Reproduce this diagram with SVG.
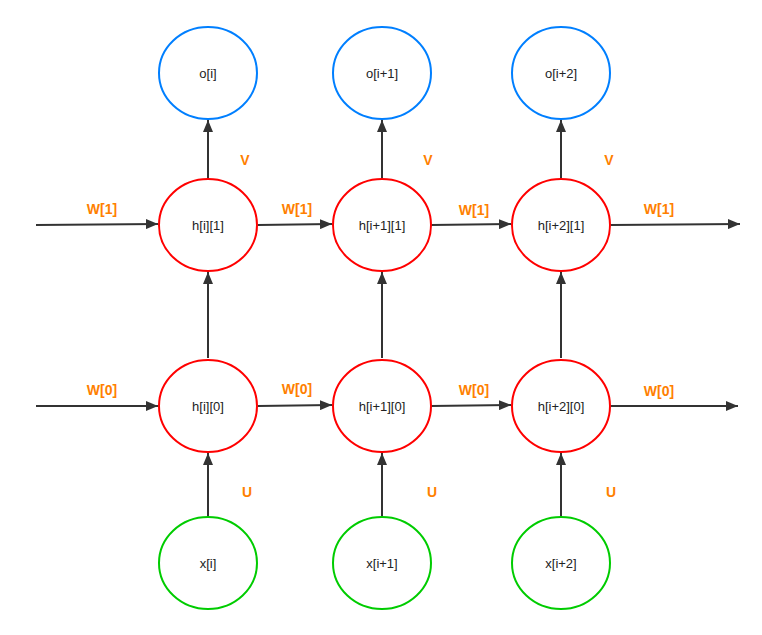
<svg xmlns="http://www.w3.org/2000/svg" width="762" height="635" viewBox="0 0 762 635">
<style>
.n{fill:#fff;stroke-width:2}
.o{stroke:#007fff}.h{stroke:#ff0000}.x{stroke:#00cc00}
.t{font-family:"Liberation Sans",sans-serif;font-size:13px;fill:#222;text-anchor:middle;dominant-baseline:central}
.l{font-family:"Liberation Sans",sans-serif;font-size:14px;font-weight:bold;fill:#ff8000;text-anchor:middle;dominant-baseline:central}
.c line{stroke:#333;stroke-width:2;marker-end:url(#a)}
</style>
<defs><marker id="a" viewBox="0 0 12 10" refX="12" refY="5" markerWidth="12" markerHeight="10" markerUnits="userSpaceOnUse" orient="auto"><path d="M0,0L12,5L0,10z" fill="#333"/></marker></defs>
<rect width="762" height="635" fill="#fff"/>
<g class="c" id="connectors">
<line x1="36" y1="225" x2="158" y2="224"/><line x1="258" y1="225" x2="332" y2="224"/><line x1="431" y1="225" x2="511" y2="224"/><line x1="611" y1="225" x2="740" y2="224"/>
<line x1="36" y1="406" x2="158" y2="406"/><line x1="258" y1="406" x2="332" y2="405"/><line x1="431" y1="406" x2="511" y2="405"/><line x1="611" y1="406" x2="738" y2="406"/>
<line x1="208" y1="178" x2="208" y2="120"/><line x1="382" y1="178" x2="382" y2="120"/><line x1="561" y1="178" x2="561" y2="120"/>
<line x1="208" y1="358" x2="208" y2="272"/><line x1="382" y1="358" x2="382" y2="272"/><line x1="561" y1="358" x2="561" y2="272"/>
<line x1="208" y1="516" x2="208" y2="453"/><line x1="382" y1="516" x2="382" y2="453"/><line x1="561" y1="516" x2="561" y2="453"/>
</g>
<g id="o0"><ellipse class="n o" cx="208" cy="73" rx="49" ry="46"/><text class="t" x="208" y="73">o[i]</text></g>
<g id="o1"><ellipse class="n o" cx="382" cy="73" rx="49" ry="46"/><text class="t" x="382" y="73">o[i+1]</text></g>
<g id="o2"><ellipse class="n o" cx="561" cy="73" rx="49" ry="46"/><text class="t" x="561" y="73">o[i+2]</text></g>
<g id="h10"><ellipse class="n h" cx="208" cy="225" rx="49" ry="46"/><text class="t" x="208" y="225">h[i][1]</text></g>
<g id="h11"><ellipse class="n h" cx="382" cy="225" rx="49" ry="46"/><text class="t" x="382" y="225">h[i+1][1]</text></g>
<g id="h12"><ellipse class="n h" cx="561" cy="225" rx="49" ry="46"/><text class="t" x="561" y="225">h[i+2][1]</text></g>
<g id="h00"><ellipse class="n h" cx="208" cy="406" rx="49" ry="46"/><text class="t" x="208" y="406">h[i][0]</text></g>
<g id="h01"><ellipse class="n h" cx="382" cy="406" rx="49" ry="46"/><text class="t" x="382" y="406">h[i+1][0]</text></g>
<g id="h02"><ellipse class="n h" cx="561" cy="406" rx="49" ry="46"/><text class="t" x="561" y="406">h[i+2][0]</text></g>
<g id="x0"><ellipse class="n x" cx="208" cy="563" rx="49" ry="46"/><text class="t" x="208" y="563">x[i]</text></g>
<g id="x1"><ellipse class="n x" cx="382" cy="563" rx="49" ry="46"/><text class="t" x="382" y="563">x[i+1]</text></g>
<g id="x2"><ellipse class="n x" cx="561" cy="563" rx="49" ry="46"/><text class="t" x="561" y="563">x[i+2]</text></g>
<g id="labels">
<text class="l" x="102" y="209">W[1]</text><text class="l" x="297" y="209">W[1]</text><text class="l" x="474" y="210">W[1]</text><text class="l" x="659" y="209">W[1]</text>
<text class="l" x="245" y="160">V</text><text class="l" x="428" y="160">V</text><text class="l" x="609" y="160">V</text>
<text class="l" x="102" y="390">W[0]</text><text class="l" x="297" y="389">W[0]</text><text class="l" x="474" y="390">W[0]</text><text class="l" x="659" y="391">W[0]</text>
<text class="l" x="247" y="492">U</text><text class="l" x="432" y="492">U</text><text class="l" x="611" y="492">U</text>
</g>
</svg>
